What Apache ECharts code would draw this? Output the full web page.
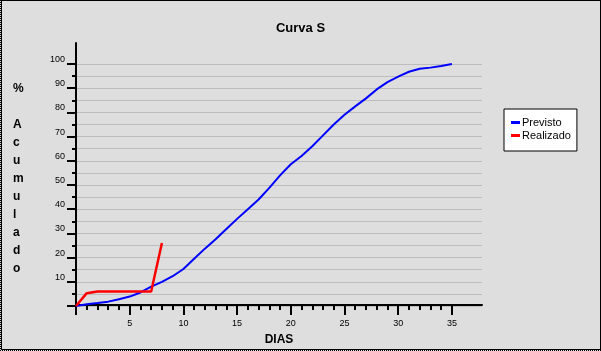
<!DOCTYPE html>
<html>
<head>
<meta charset="utf-8">
<script src="https://cdn.jsdelivr.net/npm/echarts@6/dist/echarts.min.js"></script>
<style>
    html, body { margin: 0; padding: 0; background: #dedede; }
    #chart { position: absolute; left: 0; top: 0; width: 601px; height: 351px; }
    #frame { position: absolute; left: 0; top: 0; width: 601px; height: 351px; box-sizing: border-box;
        border-left: 1px dotted #000; border-bottom: 1px dotted #000; pointer-events: none; }
    #frame div { width: 100%; height: 100%; box-sizing: border-box; border: 1px solid #000; }
</style>
</head>
<body>
<div id="chart"></div>
<div id="frame"><div></div></div>
<script>
// dias (eixo x)
var dias = [0, 1, 2, 3, 4, 5, 6, 7, 8, 9, 10, 11, 12, 13, 14, 15, 16, 17, 18, 19, 20,
    21, 22, 23, 24, 25, 26, 27, 28, 29, 30, 31, 32, 33, 34, 35];
// % acumulado previsto
var previsto = [0, 0.7, 1.2, 1.8, 2.8, 3.9, 5.6, 8, 10, 12.3, 15.3, 19.5, 23.7, 27.6, 31.8, 36, 40, 44, 48.8, 54, 58.6,
    62, 66, 70.5, 75, 79, 82.5, 85.8, 89.5, 92.5, 94.8, 96.8, 98, 98.5, 99.2, 100];
// % acumulado realizado
var realizado = [0, 5.3, 6, 6, 6, 6, 6, 6, 26];

var yLabel = '%\n\nA\nc\nu\nm\nu\nl\na\nd\no';

function pairs(ys) {
    var out = [];
    for (var i = 0; i < ys.length; i++) out.push([dias[i], ys[i]]);
    return out;
}

var font = 'Arial, "Liberation Sans", sans-serif';

function init_chart() {
    var chart = echarts.init(document.getElementById('chart'), null, {renderer: 'canvas'});
    chart.setOption({
        animation: false,
        backgroundColor: '#dedede',
        textStyle: {fontFamily: font},
        title: {
            text: 'Curva S',
            left: 'center',
            top: 17,
            textStyle: {fontSize: 13, fontWeight: 'bold', color: '#000', fontFamily: font}
        },
        legend: {
            orient: 'vertical',
            left: 504,
            top: 109,
            padding: [7, 6, 9, 7],
            backgroundColor: '#fff',
            borderColor: '#000',
            borderWidth: 1,
            borderRadius: 0,
            icon: 'rect',
            itemWidth: 9,
            itemHeight: 3,
            itemGap: 0,
            textStyle: {fontSize: 11, lineHeight: 13, color: '#000', fontFamily: font, padding: [0, 0, 0, -3]},
            data: ['Previsto', 'Realizado']
        },
        graphic: [{
            type: 'text',
            left: 13,
            top: 80,
            style: {text: yLabel, font: 'bold 12px ' + font, lineHeight: 18, fill: '#000', align: 'center'}
        }],
        grid: [
            {left: 76, top: 43, right: 119, bottom: 45},   // moldura dos eixos
            {left: 76, top: 64, right: 119, bottom: 45},   // linhas de grade
            {left: 76, top: 64, width: 375.9, bottom: 45}  // dados
        ],
        xAxis: [{
            gridIndex: 0, type: 'value', min: 0, max: 1, z: 5,
            name: 'DIAS', nameLocation: 'middle', nameGap: 29,
            nameTextStyle: {fontSize: 12, fontWeight: 'bold', color: '#000', fontFamily: font},
            axisLine: {lineStyle: {color: '#000', width: 2}},
            axisTick: {show: false}, axisLabel: {show: false}, splitLine: {show: false}
        }, {
            gridIndex: 1, type: 'value', min: 0, max: 1, show: false
        }, {
            gridIndex: 2, type: 'value', min: 0, max: 35, interval: 5, z: 6,
            axisLine: {show: false},
            axisTick: {length: 9, lineStyle: {color: '#000', width: 2}},
            minorTick: {show: true, splitNumber: 5, length: 4, lineStyle: {color: '#000', width: 2}},
            axisLabel: {
                margin: 13, fontSize: 9, color: '#000', fontFamily: font,
                formatter: function (v) { return v === 0 ? '' : v; }
            },
            splitLine: {show: false}
        }],
        yAxis: [{
            gridIndex: 0, type: 'value', min: 0, max: 1, z: 5,
            axisLine: {lineStyle: {color: '#000', width: 2}},
            axisTick: {show: false}, axisLabel: {show: false}, splitLine: {show: false}
        }, {
            gridIndex: 1, type: 'value', min: 0, max: 100, interval: 10, z: 4,
            axisLine: {show: false},
            axisTick: {length: 9, lineStyle: {color: '#000', width: 2}},
            minorTick: {show: true, splitNumber: 2, length: 4, lineStyle: {color: '#000', width: 2}},
            axisLabel: {
                margin: 11, fontSize: 9, color: '#000', fontFamily: font, verticalAlign: 'bottom',
                formatter: function (v) { return v === 0 ? '' : v; }
            },
            splitLine: {lineStyle: {color: '#bdbdbd', width: 1}},
            minorSplitLine: {show: true, lineStyle: {color: '#bdbdbd', width: 1}}
        }, {
            gridIndex: 2, type: 'value', min: 0, max: 100, show: false
        }],
        series: [{
            name: 'Previsto',
            type: 'line',
            xAxisIndex: 2,
            yAxisIndex: 2,
            data: pairs(previsto),
            symbol: 'none',
            color: '#0000ff',
            lineStyle: {color: '#0000ff', width: 2},
            z: 10
        }, {
            name: 'Realizado',
            type: 'line',
            xAxisIndex: 2,
            yAxisIndex: 2,
            data: pairs(realizado),
            symbol: 'none',
            color: '#ff0000',
            lineStyle: {color: '#ff0000', width: 2.5},
            z: 11
        }]
    });
    return chart;
}

var chart = init_chart();
</script>
</body>
</html>
